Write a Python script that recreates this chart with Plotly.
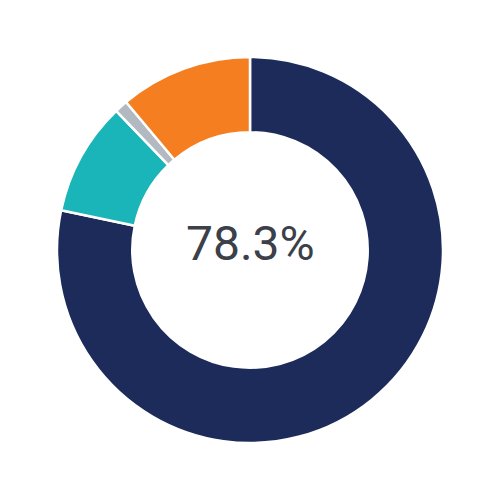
import plotly.graph_objects as go

labels = ["A", "B", "C", "D"]
values = [78.3, 9.5, 1.1, 11.1]
colors = ["#1c2b5a", "#1ab5b8", "#b3b9c1", "#f47e20"]
center_text = "78.3%"

fig = go.Figure(go.Pie(
    labels=labels,
    values=values,
    hole=0.61,
    sort=False,
    direction="clockwise",
    rotation=0,
    marker=dict(colors=colors, line=dict(color="white", width=2.5)),
    textinfo="none",
    hoverinfo="label+percent",
    domain=dict(x=[49/500, 435/500], y=[65/500, 451/500]),
))
fig.update_layout(
    width=500, height=500,
    margin=dict(l=0, r=0, t=0, b=0),
    showlegend=False,
    paper_bgcolor="white",
    annotations=[dict(text=center_text, x=242/500, y=265/500, xref="paper", yref="paper",
                      showarrow=False, font=dict(family="Roboto", size=48, color="#3b4049"))],
)
fig.write_html("out.html")
